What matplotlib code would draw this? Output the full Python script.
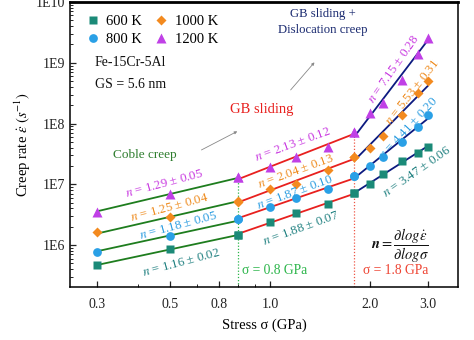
import numpy as np
import matplotlib
matplotlib.use("Agg")
import matplotlib.pyplot as plt
from matplotlib.ticker import FixedLocator, FixedFormatter, LogLocator, NullFormatter

plt.rcParams['font.family'] = ['Liberation Serif', 'DejaVu Serif']
plt.rcParams['mathtext.fontset'] = 'stix'

# ---- data -------------------------------------------------------------
temps = ["600 K", "800 K", "1000 K", "1200 K"]

stress_coble = [0.3, 0.5, 0.8]
stress_gb = [0.8, 1.0, 1.2, 1.5, 1.8]
stress_disl = [1.8, 2.0, 2.2, 2.5, 2.8, 3.0]

rate_coble = {
    "600 K": [4.7e5, 8.5e5, 1.46e6],
    "800 K": [7.6e5, 1.41e6, 2.68e6],
    "1000 K": [1.62e6, 2.85e6, 5.15e6],
    "1200 K": [3.5e6, 6.8e6, 1.33e7],
}
rate_gb = {
    "600 K": [1.46e6, 2.39e6, 3.4e6, 4.72e6, 7.24e6],
    "800 K": [2.68e6, 4.26e6, 6.0e6, 8.24e6, 1.36e7],
    "1000 K": [5.3e6, 8.3e6, 1.03e7, 1.71e7, 2.83e7],
    "1200 K": [1.3e7, 1.94e7, 2.83e7, 4.05e7, 7.3e7],
}
rate_disl = {
    "600 K": [7.24e6, 1.03e7, 1.46e7, 2.44e7, 3.22e7, 4.14e7],
    "800 K": [1.36e7, 1.99e7, 2.77e7, 5.0e7, 8.8e7, 1.37e8],
    "1000 K": [2.83e7, 3.89e7, 6.2e7, 1.37e8, 3.13e8, 5.04e8],
    "1200 K": [7.3e7, 1.47e8, 2.14e8, 5.2e8, 1.42e9, 2.6e9],
}

# stress exponents (n, error) for each regime
n_coble = {"600 K": (1.16, 0.02), "800 K": (1.18, 0.05), "1000 K": (1.25, 0.04), "1200 K": (1.29, 0.05)}
n_gb = {"600 K": (1.88, 0.07), "800 K": (1.87, 0.10), "1000 K": (2.04, 0.13), "1200 K": (2.13, 0.12)}
n_disl = {"600 K": (3.47, 0.06), "800 K": (4.41, 0.20), "1000 K": (5.53, 0.31), "1200 K": (7.15, 0.28)}

x_tick_pos = [0.3, 0.5, 0.7, 1.0, 2.0, 3.0]
x_tick_labels = ["0.3", "0.5", "0.8", "1.0", "2.0", "3.0"]
y_tick_pos = [1e6, 1e7, 1e8, 1e9, 1e10]
y_tick_labels = ["1E6", "1E7", "1E8", "1E9", "1E10"]

# ---- styles -----------------------------------------------------------
marker_color = {"600 K": "#1b8a78", "800 K": "#2aa0e6", "1000 K": "#f38a1f", "1200 K": "#c040e6"}
label_color = {"600 K": "#1f8080", "800 K": "#2a9ce0", "1000 K": "#ee8a1c", "1200 K": "#c838e0"}
markers = {"600 K": "s", "800 K": "o", "1000 K": "D", "1200 K": "^"}
msize = {"600 K": 5.5, "800 K": 6.3, "1000 K": 5.2, "1200 K": 6.5}
line_color = {"coble": "#1e7d1e", "gb": "#e8201e", "disl": "#0c1a80"}

fig = plt.figure(figsize=(4.74, 3.40), dpi=100)
ax = fig.add_axes([70 / 474, 1 - 287 / 340, 388 / 474, 285 / 340])
ax.set_xscale("log")
ax.set_yscale("log")
ax.set_xlim(0.2486, 3.70)
ax.set_ylim(2.04e5, 1.0e10)


def fit_line(xs, ys, n):
    lx = np.log10(xs)
    ly = np.log10(ys)
    xx = np.array([xs[0], xs[-1]])
    yy = 10 ** (ly.mean() + n * (np.log10(xx) - lx.mean()))
    return xx, yy


regimes = [
    (stress_coble, rate_coble, n_coble, "coble"),
    (stress_gb, rate_gb, n_gb, "gb"),
    (stress_disl, rate_disl, n_disl, "disl"),
]

for xs, rates, ns, key in regimes:
    for t in temps:
        xx, yy = fit_line(xs, rates[t], ns[t][0])
        ax.plot(xx, yy, color=line_color[key], lw=1.3, zorder=2)

for t in temps:
    for xs, rates, _, _ in regimes:
        ax.plot(xs, rates[t], linestyle="none", marker=markers[t], ms=msize[t],
                color=marker_color[t], mec="none", zorder=3)

# legend handles
for t in temps:
    ax.plot([], [], linestyle="none", marker=markers[t], ms=msize[t],
            color=marker_color[t], mec="none", label=t)
handles, labels = ax.get_legend_handles_labels()
ax.legend(handles, labels, ncol=2,
          loc="upper left", bbox_to_anchor=(0.015, 0.985), frameon=False,
          fontsize=10.5, handletextpad=0.4, columnspacing=0.75, labelspacing=0.3,
          handlelength=1.1, borderaxespad=0.2)

# regime boundaries
y_low = ax.get_ylim()[0]
top_08 = max(rate_gb[t][0] for t in temps)
top_18 = max(rate_disl[t][0] for t in temps)
ax.vlines(0.8, y_low, top_08, colors="#2bb54a", linestyles=(0, (1, 1.5)), lw=0.9, zorder=1)
ax.vlines(1.8, y_low, top_18, colors="#ee5544", linestyles=(0, (1, 1.5)), lw=0.9, zorder=1)

def px(x, y):
    return ((x - 70) / 388, (287 - y) / 285)

tkw = dict(transform=ax.transAxes, ha="center", va="center")
ax.text(*px(275, 271), "σ = 0.8 GPa", color="#2bb54a", fontsize=9.8, **tkw)
ax.text(*px(396, 271), "σ = 1.8 GPa", color="#ee4433", fontsize=9.8, **tkw)

ax.text(*px(145, 155), "Coble creep", color="#2e7d2e", fontsize=9.5, **tkw)
ax.text(*px(262, 110), "GB sliding", color="#e8201e", fontsize=10.5, **tkw)
ax.text(*px(323, 22), "GB sliding +\nDislocation creep", color="#1a2a70",
        fontsize=9.2, linespacing=1.45, **tkw)
ax.text(*px(95, 63), "Fe-15Cr-5Al", color="#111111", fontsize=10,
        transform=ax.transAxes, ha="left", va="center")
ax.text(*px(95, 84), "GS = 5.6 nm", color="#111111", fontsize=10,
        transform=ax.transAxes, ha="left", va="center")

ax.text(*px(400, 246), r"$\boldsymbol{n} = \dfrac{\partial log\dot{\varepsilon}}{\partial log\sigma}$",
        color="#111111", fontsize=10.5, **tkw)

# guide arrows
akw = dict(arrowstyle="-|>", color="#888888", lw=0.6, mutation_scale=4)
ax.annotate("", xy=(0.81, 7.8e7), xytext=(0.61, 3.5e7), arrowprops=akw)
ax.annotate("", xy=(1.38, 1.1e9), xytext=(1.14, 3.3e8), arrowprops=akw)

# stress exponent labels
label_pos = {
    "coble": {"1200 K": (164, 184), "1000 K": (170, 208), "800 K": (178, 226), "600 K": (181, 263)},
    "gb": {"1200 K": (293, 145), "1000 K": (296, 172), "800 K": (295, 193), "600 K": (301, 229)},
    "disl": {"1200 K": (394, 69), "1000 K": (413, 92), "800 K": (409, 128), "600 K": (417, 172)},
}
label_rot = {
    "coble": {t: 15 for t in temps},
    "gb": {t: 20 for t in temps},
    "disl": {"1200 K": 55, "1000 K": 52, "800 K": 47, "600 K": 35},
}
for _, _, ns, key in regimes:
    for t in temps:
        n, e = ns[t]
        ax.text(*px(*label_pos[key][t]), rf"$n$ = {n:.2f} ± {e:.2f}",
                color=label_color[t], fontsize=9.3, rotation=label_rot[key][t],
                rotation_mode="anchor", **tkw)

# axes, ticks
ax.xaxis.set_major_locator(FixedLocator(x_tick_pos))
ax.xaxis.set_major_formatter(FixedFormatter(x_tick_labels))
ax.xaxis.set_minor_locator(LogLocator(base=10, subs=np.arange(2, 10) * 0.1, numticks=20))
ax.xaxis.set_minor_formatter(NullFormatter())
ax.yaxis.set_major_locator(FixedLocator(y_tick_pos))
ax.yaxis.set_major_formatter(FixedFormatter(y_tick_labels))
ax.yaxis.set_minor_locator(LogLocator(base=10, subs=np.arange(2, 10), numticks=20))
ax.yaxis.set_minor_formatter(NullFormatter())
ax.tick_params(which="both", direction="in", top=False, right=False, labelsize=10,
               colors="#222222")
ax.tick_params(which="major", length=4, width=0.9)
ax.tick_params(which="minor", length=2.2, width=0.7)
ax.tick_params(axis="x", pad=8)
for s in ["left", "bottom", "right"]:
    ax.spines[s].set_linewidth(1.1)
ax.spines["top"].set_linewidth(2.0)

ax.set_xlabel("Stress σ (GPa)", fontsize=10.5, labelpad=5)
ax.set_ylabel(r"Creep rate $\dot{\varepsilon}$ $(s^{-1})$", fontsize=10.5, labelpad=2)

fig.savefig("out.png", dpi=100)
